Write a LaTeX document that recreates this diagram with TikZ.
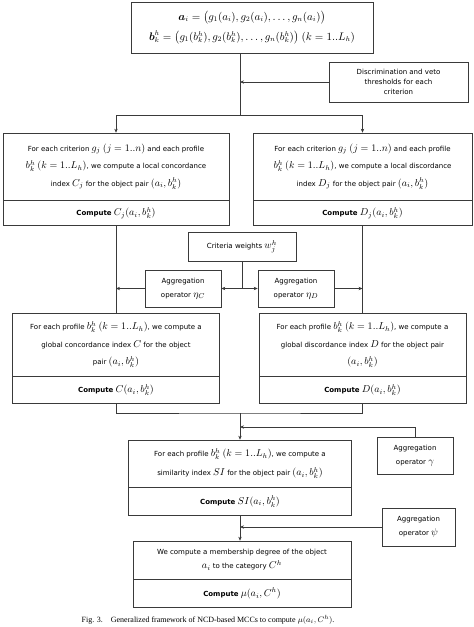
\documentclass[tikz,border=0pt]{standalone}
\usepackage{amsmath}
\usepackage{fontspec}
\setmainfont{Liberation Serif}
\newfontfamily\boxfont{DejaVu Sans}
\usetikzlibrary{arrows.meta,positioning}
\definecolor{NcdLine}{HTML}{3A3A3A}
\newcommand\mth[1]{{\fontsize{10}{10}\selectfont$#1$}}
\tikzset{
  ncdbox/.style={
    draw=NcdLine,
    line width=0.6pt,
    rectangle,
    align=center,
    inner sep=0pt,
    font=\boxfont\fontsize{7}{17.5}\selectfont
  },
  ncdsmall/.style={
    ncdbox,
    font=\boxfont\fontsize{7}{14}\selectfont
  },
  ncdline/.style={draw=NcdLine,line width=0.6pt},
  ncdarrow/.style={-{Stealth[length=4pt,width=3.4pt]},ncdline}
}

\begin{document}
\begin{tikzpicture}[x=1pt,y=-1pt]
  \useasboundingbox (0,0) rectangle (474,627);
  % object and profiles
  \node[ncdbox,minimum width=242pt,minimum height=51pt,font=\fontsize{10.5}{20}\selectfont] (obj) at (252,27.5)
    {$\boldsymbol{a}_i=\big(g_1(a_i),g_2(a_i),\ldots,g_n(a_i)\big)$\\
     $\boldsymbol{b}_k^h=\big(g_1(b_k^h),g_2(b_k^h),\ldots,g_n(b_k^h)\big)\ (k=1..L_h)$};
  \node[ncdbox,minimum width=139pt,minimum height=40pt,font=\boxfont\fontsize{7}{10}\selectfont] (thr) at (398.5,82)
    {Discrimination and veto\\thresholds for each\\criterion};
  \coordinate (spine) at (240,115);
  \draw[ncdline] (obj.south -| spine) -- (spine);
  \draw[ncdarrow] (thr.west) -- (thr.west -| spine);

  % local indices
  \node[ncdbox,minimum width=226pt,minimum height=67pt] (locC) at (116,166.5)
    {For each criterion \mth{g_j} \mth{(j=1..n)} and each profile\\
     \mth{b_k^h} \mth{(k=1..L_h)}, we compute a local concordance\\
     index \mth{C_j} for the object pair \mth{(a_i,b_k^h)}};
  \node[ncdbox,minimum width=226pt,minimum height=25pt,below=0pt of locC] (cmpC)
    {\textbf{Compute} \mth{C_j(a_i,b_k^h)}};
  \node[ncdbox,minimum width=219pt,minimum height=67pt] (locD) at (362.5,166.5)
    {For each criterion \mth{g_j} \mth{(j=1..n)} and each profile\\
     \mth{b_k^h} \mth{(k=1..L_h)}, we compute a local discordance\\
     index \mth{D_j} for the object pair \mth{(a_i,b_k^h)}};
  \node[ncdbox,minimum width=219pt,minimum height=25pt,below=0pt of locD] (cmpD)
    {\textbf{Compute} \mth{D_j(a_i,b_k^h)}};
  \draw[ncdarrow] (spine) -| (locC.north);
  \draw[ncdarrow] (spine) -| (locD.north);

  % weights and aggregation
  \node[ncdbox,minimum width=108pt,minimum height=29pt] (wgt) at (242,246.5)
    {Criteria weights \mth{w_j^h}};
  \node[ncdsmall,minimum width=76pt,minimum height=37pt] (etaC) at (183,288.5)
    {Aggregation\\operator \mth{\eta_C}};
  \node[ncdsmall,minimum width=76pt,minimum height=37pt] (etaD) at (296,288.5)
    {Aggregation\\operator \mth{\eta_D}};
  \coordinate (wsplit) at (wgt.south |- etaC.east);
  \draw[ncdline] (wgt.south) -- (wsplit);
  \draw[ncdarrow] (wsplit) -- (etaC.east);
  \draw[ncdarrow] (wsplit) -- (etaD.west);

  % global indices
  \node[ncdbox,minimum width=207pt,minimum height=63pt] (gloC) at (116,344.5)
    {For each profile \mth{b_k^h} \mth{(k=1..L_h)}, we compute a\\
     global concordance index \mth{C} for the object\\
     pair \mth{(a_i,b_k^h)}};
  \node[ncdbox,minimum width=207pt,minimum height=27pt,below=0pt of gloC] (cgC)
    {\textbf{Compute} \mth{C(a_i,b_k^h)}};
  \node[ncdbox,minimum width=207pt,minimum height=63pt] (gloD) at (362.5,344.5)
    {For each profile \mth{b_k^h} \mth{(k=1..L_h)}, we compute a\\
     global discordance index \mth{D} for the object pair\\
     \mth{(a_i,b_k^h)}};
  \node[ncdbox,minimum width=207pt,minimum height=27pt,below=0pt of gloD] (cgD)
    {\textbf{Compute} \mth{D(a_i,b_k^h)}};
  \draw[ncdline] (cmpC.south) -- (gloC.north);
  \draw[ncdline] (cmpD.south) -- (gloD.north);
  \draw[ncdarrow] (etaC.west) -- (etaC.west -| cmpC.south);
  \draw[ncdarrow] (etaD.east) -- (etaD.east -| cmpD.south);

  % similarity
  \node[ncdbox,minimum width=223pt,minimum height=47pt,font=\boxfont\fontsize{7}{19}\selectfont] (si) at (240,463.5)
    {For each profile \mth{b_k^h} \mth{(k=1..L_h)}, we compute a\\
     similarity index \mth{SI} for the object pair \mth{(a_i,b_k^h)}};
  \node[ncdbox,minimum width=223pt,minimum height=28pt,below=0pt of si] (cmpSI)
    {\textbf{Compute} \mth{SI(a_i,b_k^h)}};
  \node[ncdsmall,minimum width=76pt,minimum height=37pt] (gam) at (415,455.5)
    {Aggregation\\operator \mth{\gamma}};
  \coordinate (merge) at (240,413);
  \coordinate (gjoin) at (240,427);
  \draw[ncdline] (cgC.south) |- (merge) -| (cgD.south);
  \draw[ncdarrow] (merge) -- (merge |- si.north);
  \draw[ncdarrow] (gam.north) |- (gjoin);

  % membership
  \node[ncdsmall,minimum width=218pt,minimum height=38pt] (mu) at (242,560)
    {We compute a membership degree of the object\\
     \mth{a_i} to the category \mth{C^h}};
  \node[ncdbox,minimum width=218pt,minimum height=28pt,below=0pt of mu] (cmpMu)
    {\textbf{Compute} \mth{\mu(a_i,C^h)}};
  \node[ncdsmall,minimum width=73pt,minimum height=38pt] (psi) at (418.5,527)
    {Aggregation\\operator \mth{\psi}};
  \draw[ncdarrow] (cmpSI.south) -- (cmpSI.south |- mu.north);
  \draw[ncdarrow] (psi.west) -- (psi.west -| cmpSI.south);

  \node[font=\fontsize{8}{10}\selectfont] (cap) at (208,620)
    {Fig. 3.\quad Generalized framework of NCD-based MCCs to compute $\mu(a_i,C^h)$.};
\end{tikzpicture}
\end{document}
